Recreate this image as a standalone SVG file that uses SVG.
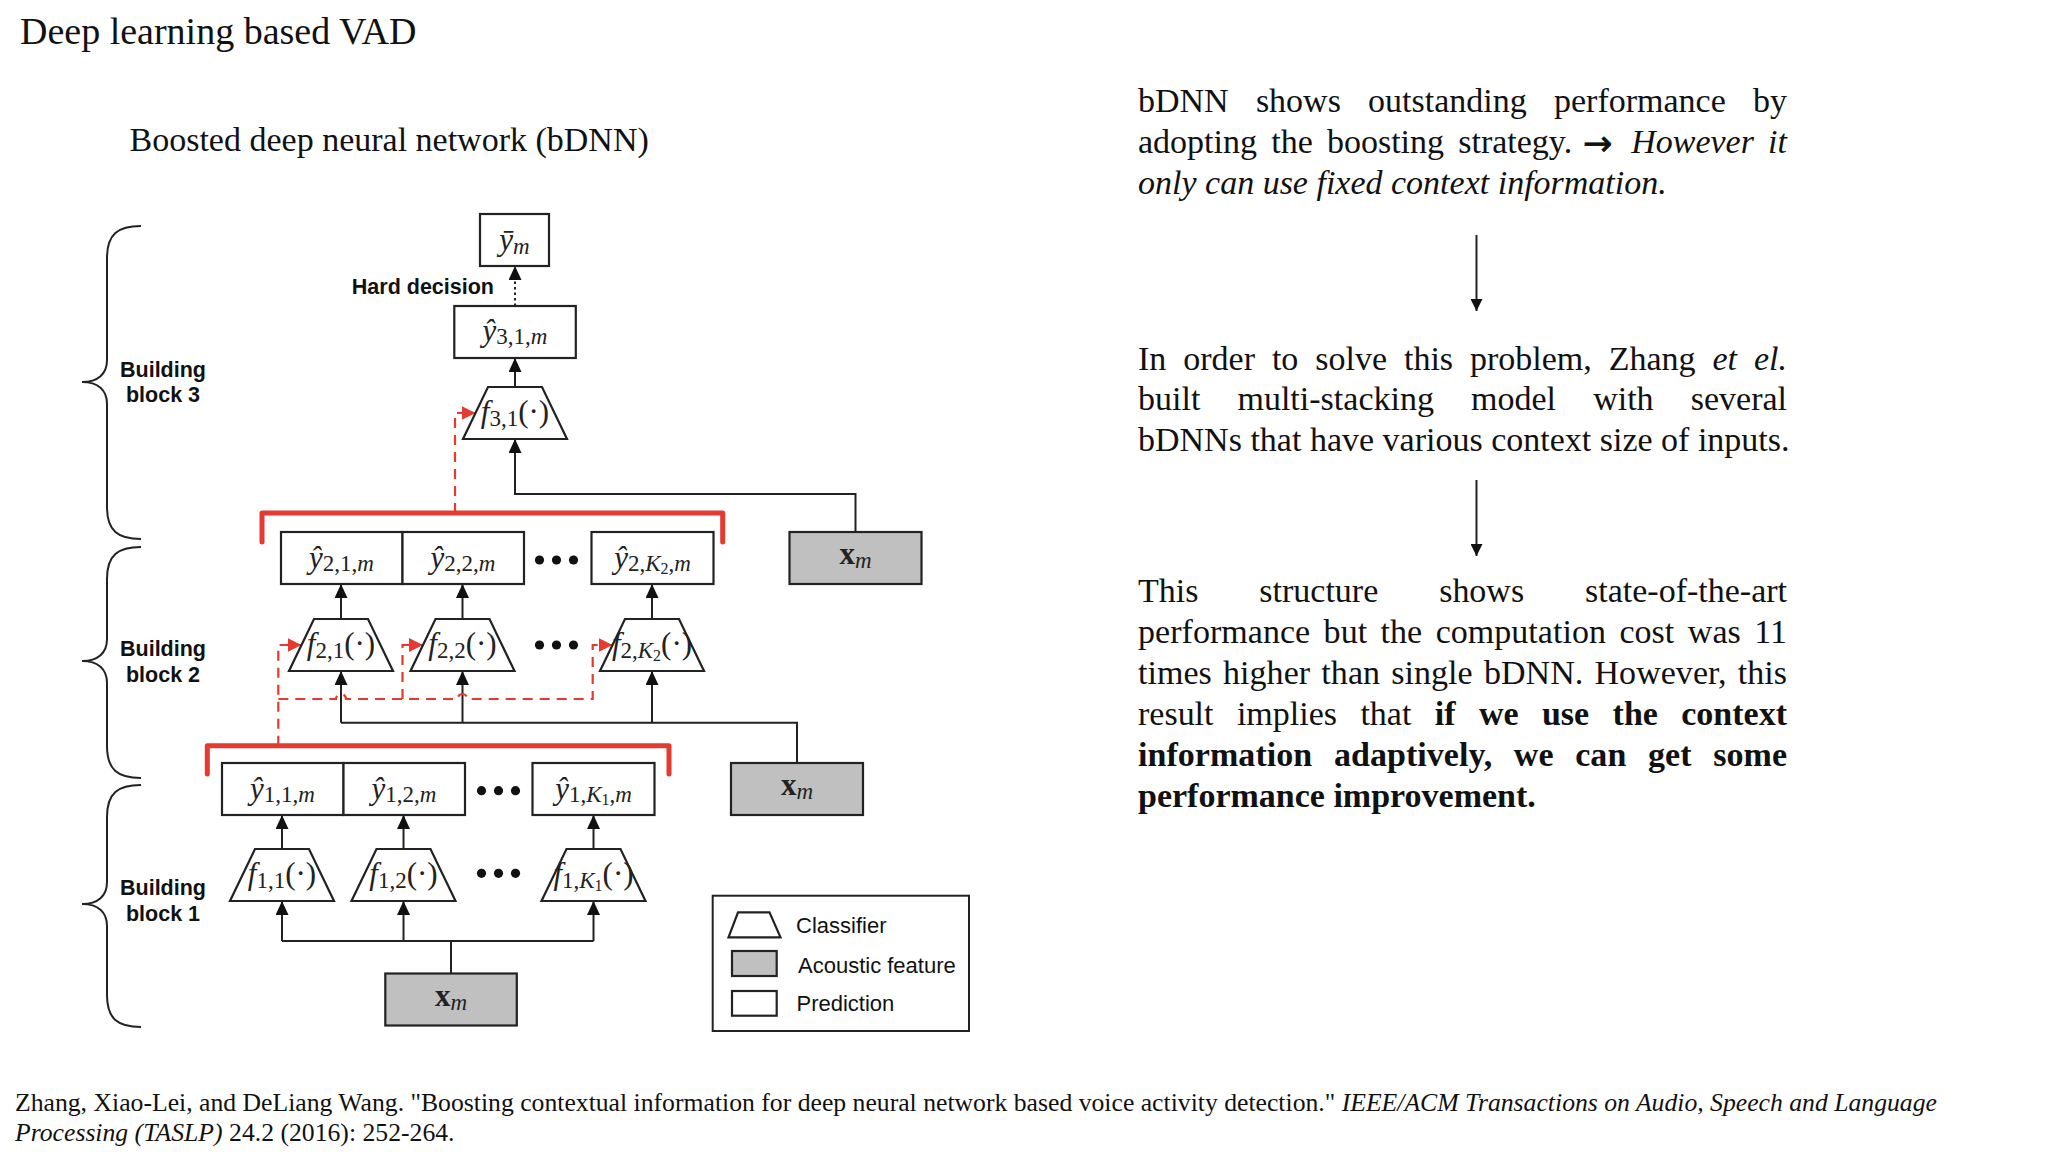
<svg xmlns="http://www.w3.org/2000/svg" width="2048" height="1152" viewBox="0 0 2048 1152">
<style>
.serif{font-family:"Liberation Serif","Times New Roman","DejaVu Serif",serif;fill:#111}
.sans{font-family:"Liberation Sans",Arial,sans-serif;fill:#111}
.b{font-weight:bold}
.i{font-style:italic}
.math{font-family:"Liberation Serif","DejaVu Serif",serif;font-size:31px;fill:#222}
.sub{font-size:23px}
.ss{font-size:16px}
.box{fill:#fff;stroke:#222;stroke-width:2.2}
.feat{fill:#c0c0c0;stroke:#222;stroke-width:2.2}
.ln{fill:none;stroke:#222;stroke-width:2}
.dot{fill:#111}
.brace{fill:none;stroke:#222;stroke-width:2}
.redb{fill:none;stroke:#e53a30;stroke-width:5;stroke-linejoin:round;stroke-linecap:round}
.rdash{fill:none;stroke:#e53a30;stroke-width:2.2;stroke-dasharray:10 7}
.para{font-size:34px}
</style>
<defs>
<marker id="ah" viewBox="0 0 14 13" markerWidth="14" markerHeight="13" refX="14" refY="6.5" orient="auto" markerUnits="userSpaceOnUse"><path d="M0,0 L14,6.5 L0,13 Z" fill="#111"/></marker>
<marker id="ahr" viewBox="0 0 14 14" markerWidth="14" markerHeight="14" refX="14" refY="7" orient="auto" markerUnits="userSpaceOnUse"><path d="M0,0 L14,7 L0,14 Z" fill="#e53a30"/></marker>
<marker id="ahs" viewBox="0 0 12 12" markerWidth="12" markerHeight="12" refX="12" refY="6" orient="auto" markerUnits="userSpaceOnUse"><path d="M0,0 L12,6 L0,12 Z" fill="#111"/></marker>
</defs>
<rect width="2048" height="1152" fill="#fff"/>

<g id="title">
<text class="serif" x="20" y="44" font-size="38">Deep learning based VAD</text>
<text class="serif" x="129.5" y="150.5" font-size="34">Boosted deep neural network (bDNN)</text>
</g>

<g id="braces">
<path class="brace" d="M141,226 C118,226 107,234 107,258 V360 C107,374 98,382 82,382 C98,382 107,390 107,404 V507 C107,531 118,539 141,539"/>
<path class="brace" d="M141,547 C118,547 107,555 107,579 V639 C107,653 98,661 82,661 C98,661 107,669 107,683 V746 C107,770 118,778 141,778"/>
<path class="brace" d="M141,785 C118,785 107,793 107,817 V882 C107,896 98,904 82,904 C98,904 107,912 107,926 V995 C107,1019 118,1027 141,1027"/>
<text class="sans b" font-size="21.5" text-anchor="middle"><tspan x="163" y="377">Building</tspan><tspan x="163" y="402">block 3</tspan></text>
<text class="sans b" font-size="21.5" text-anchor="middle"><tspan x="163" y="656">Building</tspan><tspan x="163" y="682">block 2</tspan></text>
<text class="sans b" font-size="21.5" text-anchor="middle"><tspan x="163" y="895">Building</tspan><tspan x="163" y="921">block 1</tspan></text>
</g>

<g id="connectors">
<path class="ln" d="M515,306 V266" stroke-dasharray="2.5 3" marker-end="url(#ah)"/>
<path class="ln" d="M515,387 V358" marker-end="url(#ah)"/>
<path class="ln" d="M855.5,532 V494 H515 V439" marker-end="url(#ah)"/>
<path class="rdash" d="M455,513 V413 H475.5" marker-end="url(#ahr)"/>
<path class="ln" d="M341,619 V584" marker-end="url(#ah)"/>
<path class="ln" d="M462.5,619 V584" marker-end="url(#ah)"/>
<path class="ln" d="M652,619 V584" marker-end="url(#ah)"/>
<path class="ln" d="M797,763 V722.7 H341"/>
<path class="ln" d="M341,722.7 V671" marker-end="url(#ah)"/>
<path class="ln" d="M462.5,722.7 V671" marker-end="url(#ah)"/>
<path class="ln" d="M652,722.7 V671" marker-end="url(#ah)"/>
<path class="rdash" d="M278.3,745.7 V645 H301.5" marker-end="url(#ahr)"/>
<path class="rdash" d="M278.3,699 H336 A5,5 0 0 1 346,699 H457.5 A5,5 0 0 1 467.5,699 H592.7 V645 H612.5" marker-end="url(#ahr)"/>
<path class="rdash" d="M402.5,699 V645 H423" marker-end="url(#ahr)"/>
<path class="ln" d="M282,849 V815" marker-end="url(#ah)"/>
<path class="ln" d="M403.5,849 V815" marker-end="url(#ah)"/>
<path class="ln" d="M593.5,849 V815" marker-end="url(#ah)"/>
<path class="ln" d="M451,973.5 V941"/>
<path class="ln" d="M282,941 H593.5"/>
<path class="ln" d="M282,941 V901" marker-end="url(#ah)"/>
<path class="ln" d="M403.5,941 V901" marker-end="url(#ah)"/>
<path class="ln" d="M593.5,941 V901" marker-end="url(#ah)"/>
<path class="redb" d="M262,542 V513 H722.7 V542"/>
<path class="redb" d="M207.3,774 V745.7 H669 V774"/>
<path class="ln" d="M1476.5,235 V311" marker-end="url(#ahs)"/>
<path class="ln" d="M1476.5,480 V556" marker-end="url(#ahs)"/>
</g>

<g id="ybar">
<rect class="box" x="480" y="214" width="69" height="52"/>
<text class="math" x="514.5" y="250" text-anchor="middle"><tspan class="i">ȳ</tspan><tspan class="sub i" dy="4">m</tspan></text>
</g>
<g id="hard-decision">
<text class="sans b" x="494" y="294.3" font-size="21.5" text-anchor="end">Hard decision</text>
</g>
<g id="y31">
<rect class="box" x="454.3" y="306" width="121.5" height="52"/>
<text class="math" x="515" y="341" text-anchor="middle"><tspan class="i">ŷ</tspan><tspan class="sub" dy="3">3,1,</tspan><tspan class="sub i">m</tspan></text>
</g>
<g id="f31">
<path class="box" d="M488,387 H542 L567,439 H463 Z"/>
<text class="math" x="515" y="422" text-anchor="middle"><tspan class="i">f</tspan><tspan class="sub" dy="4">3,1</tspan><tspan dy="-4">(·)</tspan></text>
</g>
<g id="xm3">
<rect class="feat" x="789.5" y="532" width="132" height="52"/>
<text class="math" x="855.5" y="564" text-anchor="middle"><tspan font-weight="bold">x</tspan><tspan class="sub i" dy="4">m</tspan></text>
</g>

<g id="y21">
<rect class="box" x="281" y="532" width="121.5" height="52"/>
<text class="math" x="341.5" y="568" text-anchor="middle"><tspan class="i">ŷ</tspan><tspan class="sub" dy="3">2,1,</tspan><tspan class="sub i">m</tspan></text>
</g>
<g id="y22">
<rect class="box" x="402.5" y="532" width="121.5" height="52"/>
<text class="math" x="463" y="568" text-anchor="middle"><tspan class="i">ŷ</tspan><tspan class="sub" dy="3">2,2,</tspan><tspan class="sub i">m</tspan></text>
</g>
<g id="dots2y">
<circle class="dot" cx="539.5" cy="560" r="4.6"/><circle class="dot" cx="556.5" cy="560" r="4.6"/><circle class="dot" cx="573.5" cy="560" r="4.6"/>
</g>
<g id="y2K">
<rect class="box" x="591.5" y="532" width="122" height="52"/>
<text class="math" x="652.5" y="568" text-anchor="middle"><tspan class="i">ŷ</tspan><tspan class="sub" dy="3">2,</tspan><tspan class="sub i">K</tspan><tspan class="ss" dy="3">2</tspan><tspan class="sub" dy="-3">,</tspan><tspan class="sub i">m</tspan></text>
</g>
<g id="f21">
<path class="box" d="M314,619 H368 L393,671 H289 Z"/>
<text class="math" x="341" y="654" text-anchor="middle"><tspan class="i">f</tspan><tspan class="sub" dy="4">2,1</tspan><tspan dy="-4">(·)</tspan></text>
</g>
<g id="f22">
<path class="box" d="M435.5,619 H489.5 L514.5,671 H410.5 Z"/>
<text class="math" x="462.5" y="654" text-anchor="middle"><tspan class="i">f</tspan><tspan class="sub" dy="4">2,2</tspan><tspan dy="-4">(·)</tspan></text>
</g>
<g id="dots2f">
<circle class="dot" cx="539.5" cy="645" r="4.6"/><circle class="dot" cx="556.5" cy="645" r="4.6"/><circle class="dot" cx="573.5" cy="645" r="4.6"/>
</g>
<g id="f2K">
<path class="box" d="M625,619 H679 L704,671 H600 Z"/>
<text class="math" x="652" y="654" text-anchor="middle"><tspan class="i">f</tspan><tspan class="sub" dy="4">2,</tspan><tspan class="sub i">K</tspan><tspan class="ss" dy="3">2</tspan><tspan dy="-7">(·)</tspan></text>
</g>
<g id="xm2">
<rect class="feat" x="731" y="763" width="132" height="52"/>
<text class="math" x="797" y="795" text-anchor="middle"><tspan font-weight="bold">x</tspan><tspan class="sub i" dy="4">m</tspan></text>
</g>

<g id="y11">
<rect class="box" x="222" y="763" width="121.5" height="52"/>
<text class="math" x="282.5" y="799" text-anchor="middle"><tspan class="i">ŷ</tspan><tspan class="sub" dy="3">1,1,</tspan><tspan class="sub i">m</tspan></text>
</g>
<g id="y12">
<rect class="box" x="343.5" y="763" width="121.5" height="52"/>
<text class="math" x="404" y="799" text-anchor="middle"><tspan class="i">ŷ</tspan><tspan class="sub" dy="3">1,2,</tspan><tspan class="sub i">m</tspan></text>
</g>
<g id="dots1y">
<circle class="dot" cx="481.5" cy="790.7" r="4.6"/><circle class="dot" cx="498.5" cy="790.7" r="4.6"/><circle class="dot" cx="515.5" cy="790.7" r="4.6"/>
</g>
<g id="y1K">
<rect class="box" x="532.5" y="763" width="122" height="52"/>
<text class="math" x="593.5" y="799" text-anchor="middle"><tspan class="i">ŷ</tspan><tspan class="sub" dy="3">1,</tspan><tspan class="sub i">K</tspan><tspan class="ss" dy="3">1</tspan><tspan class="sub" dy="-3">,</tspan><tspan class="sub i">m</tspan></text>
</g>
<g id="f11">
<path class="box" d="M255,849 H309 L334,901 H230 Z"/>
<text class="math" x="282" y="884" text-anchor="middle"><tspan class="i">f</tspan><tspan class="sub" dy="4">1,1</tspan><tspan dy="-4">(·)</tspan></text>
</g>
<g id="f12">
<path class="box" d="M376.5,849 H430.5 L455.5,901 H351.5 Z"/>
<text class="math" x="403.5" y="884" text-anchor="middle"><tspan class="i">f</tspan><tspan class="sub" dy="4">1,2</tspan><tspan dy="-4">(·)</tspan></text>
</g>
<g id="dots1f">
<circle class="dot" cx="481.5" cy="873.3" r="4.6"/><circle class="dot" cx="498.5" cy="873.3" r="4.6"/><circle class="dot" cx="515.5" cy="873.3" r="4.6"/>
</g>
<g id="f1K">
<path class="box" d="M566.5,849 H620.5 L645.5,901 H541.5 Z"/>
<text class="math" x="593.5" y="884" text-anchor="middle"><tspan class="i">f</tspan><tspan class="sub" dy="4">1,</tspan><tspan class="sub i">K</tspan><tspan class="ss" dy="3">1</tspan><tspan dy="-7">(·)</tspan></text>
</g>
<g id="xm1">
<rect class="feat" x="385.3" y="973.5" width="131.5" height="52"/>
<text class="math" x="451" y="1005.5" text-anchor="middle"><tspan font-weight="bold">x</tspan><tspan class="sub i" dy="4">m</tspan></text>
</g>

<g id="legend">
<rect x="712.7" y="895.7" width="256.3" height="135.3" fill="#fff" stroke="#222" stroke-width="2"/>
<path class="box" d="M738,912.3 H769.5 L780.5,937.3 H728.5 Z" stroke-width="2"/>
<rect class="feat" x="732" y="951" width="44.7" height="25" stroke-width="2"/>
<rect class="box" x="732" y="991" width="44.7" height="24.7" stroke-width="2"/>
<text class="sans" x="796" y="933.3" font-size="22">Classifier</text>
<text class="sans" x="798" y="972.7" font-size="22">Acoustic feature</text>
<text class="sans" x="796.5" y="1010.7" font-size="22">Prediction</text>
</g>

<g id="right-text" class="serif para">
<text x="1138" y="112" word-spacing="18.7" textLength="649" lengthAdjust="spacing">bDNN shows outstanding performance by</text>
<text x="1138" y="153" word-spacing="5.7">adopting the boosting strategy.</text>
<text x="1583" y="155" font-family="DejaVu Sans" font-size="35" fill="#111" stroke="#111" stroke-width="0.8">→</text>
<text x="1787" y="153" text-anchor="end" class="i" word-spacing="5.7">However it</text>
<text x="1138" y="194" class="i">only can use fixed context information.</text>

<text x="1138" y="369.5" word-spacing="8.4" textLength="649" lengthAdjust="spacing">In order to solve this problem, Zhang <tspan class="i">et el.</tspan></text>
<text x="1138" y="410" word-spacing="28.6" textLength="649" lengthAdjust="spacing">built multi-stacking model with several</text>
<text x="1138" y="450.5">bDNNs that have various context size of inputs.</text>

<text x="1138" y="602" word-spacing="52.4" textLength="649" lengthAdjust="spacing">This structure shows state-of-the-art</text>
<text x="1138" y="643" word-spacing="4.9" textLength="649" lengthAdjust="spacing">performance but the computation cost was 11</text>
<text x="1138" y="684" word-spacing="2.7" textLength="649" lengthAdjust="spacing">times higher than single bDNN. However, this</text>
<text x="1138" y="725" word-spacing="14.9" textLength="649" lengthAdjust="spacing">result implies that <tspan class="b">if we use the context</tspan></text>
<text x="1138" y="766" class="b" word-spacing="13.1" textLength="649" lengthAdjust="spacing">information adaptively, we can get some</text>
<text x="1138" y="807" class="b">performance improvement.</text>
</g>

<g id="reference">
<text class="serif" x="15" y="1111" font-size="25.7">Zhang, Xiao-Lei, and DeLiang Wang. "Boosting contextual information for deep neural network based voice activity detection." <tspan class="i">IEEE/ACM Transactions on Audio, Speech and Language</tspan></text>
<text class="serif" x="15" y="1141" font-size="25.7"><tspan class="i">Processing (TASLP)</tspan> 24.2 (2016): 252-264.</text>
</g>
</svg>
